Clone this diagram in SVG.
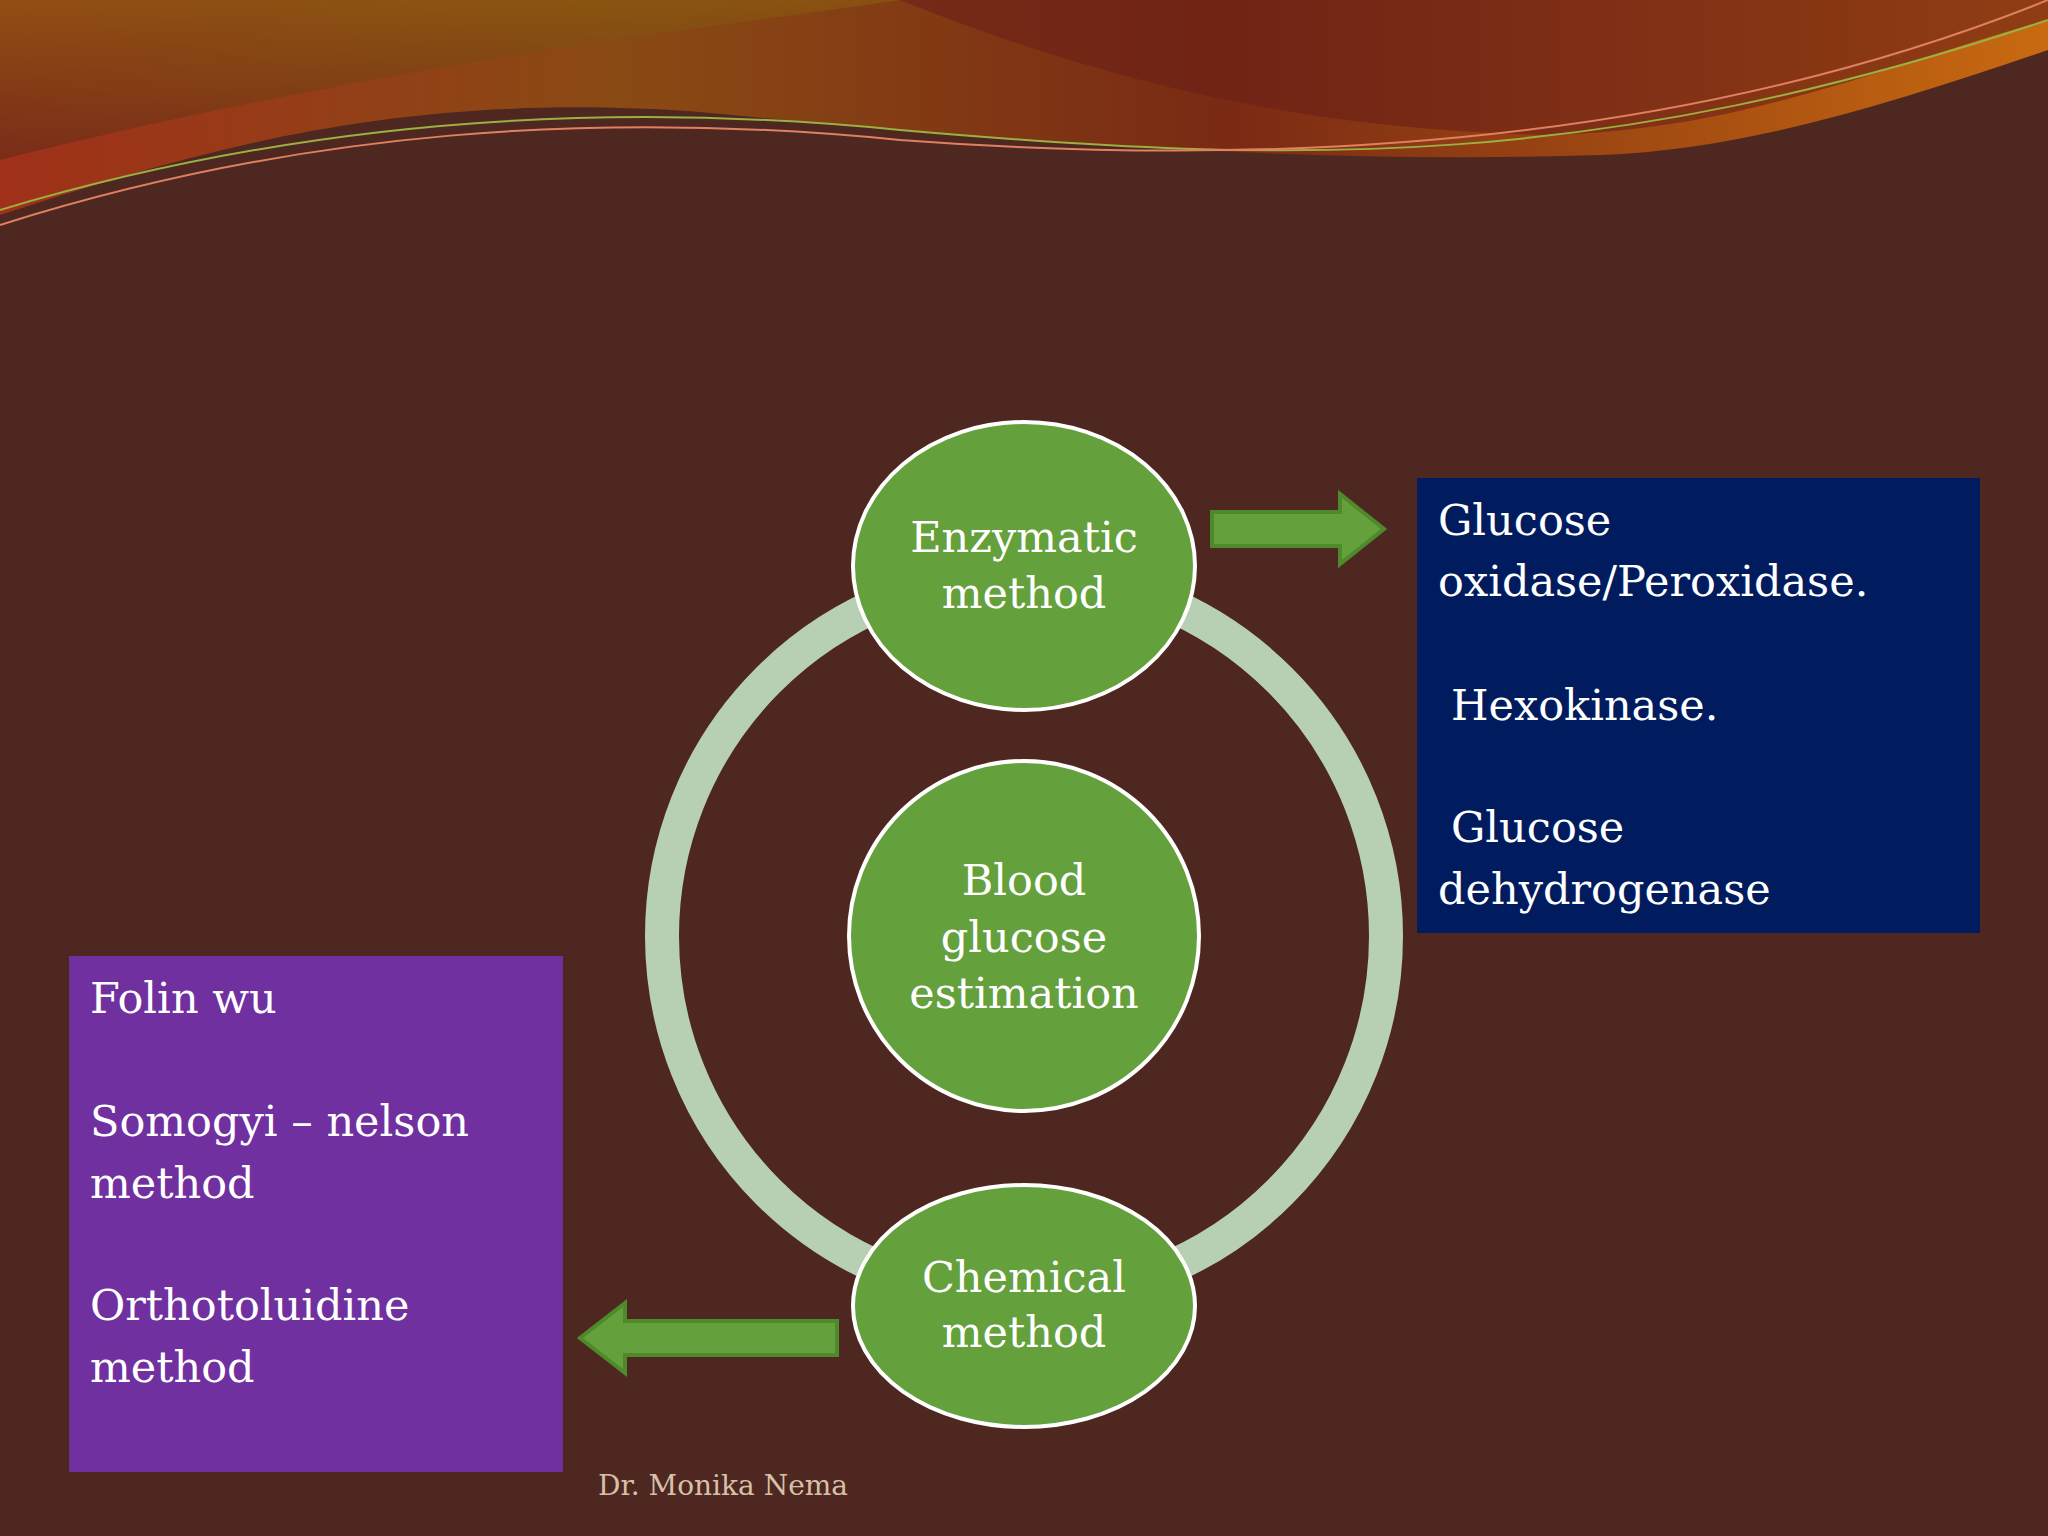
<svg xmlns="http://www.w3.org/2000/svg" width="2048" height="1536" viewBox="0 0 2048 1536">
<defs>
<linearGradient id="hg" x1="0" y1="0" x2="1" y2="0">
<stop offset="0" stop-color="#a0301a"/><stop offset="0.3" stop-color="#8a4a14"/><stop offset="0.6" stop-color="#7a2a14"/><stop offset="1" stop-color="#c86a10"/>
</linearGradient>
<linearGradient id="hg2" x1="0" y1="0" x2="0" y2="1">
<stop offset="0" stop-color="#8a5a10"/><stop offset="1" stop-color="#6a2a18"/>
</linearGradient>
</defs>
<style>
.t{font-family:"DejaVu Serif","Liberation Serif",serif;font-size:43px;fill:#ffffff}
.c{text-anchor:middle}
.node{fill:#64a03c;stroke:#ffffff;stroke-width:4}
.arr{fill:#64a03c;stroke:#4e8a2c;stroke-width:4}
</style>
<rect width="2048" height="1536" fill="#4e2820"/>
<g id="header">
<path d="M0 0H2048V50C1900 100 1750 150 1600 155C1300 165 1000 140 700 112C400 90 200 150 0 215Z" fill="url(#hg)"/>
<path d="M0 0H900C700 30 400 60 0 160Z" fill="url(#hg2)" opacity="0.7"/>
<path d="M900 0C1100 80 1300 130 1550 135C1750 130 1900 60 2048 20V0Z" fill="#6a2018" opacity="0.6"/>
<path d="M0 210C300 120 600 100 900 130C1300 165 1600 170 2048 20" fill="none" stroke="#9ab040" stroke-width="2"/>
<path d="M0 225C300 130 600 110 900 140C1300 170 1700 140 2048 0" fill="none" stroke="#e08060" stroke-width="2"/>
</g>
<g id="ring"><circle cx="1024" cy="936" r="362" fill="none" stroke="#b7d0b4" stroke-width="34"/></g>
<g id="connectors">
<path class="arr" d="M1212 512H1340V494L1384 529L1340 564V546H1212Z"/>
<path class="arr" d="M837 1321H625V1303L580 1338L625 1373V1355H837Z"/>
</g>
<g id="enzymatic"><ellipse class="node" cx="1024" cy="566" rx="171" ry="144"/>
<text class="t c" x="1024" y="552">Enzymatic</text><text class="t c" x="1024" y="608">method</text></g>
<g id="blood"><circle class="node" cx="1024" cy="936" r="175"/>
<text class="t c" x="1024" y="895">Blood</text><text class="t c" x="1024" y="952">glucose</text><text class="t c" x="1024" y="1008">estimation</text></g>
<g id="chemical"><ellipse class="node" cx="1024" cy="1306" rx="171" ry="121"/>
<text class="t c" x="1024" y="1292">Chemical</text><text class="t c" x="1024" y="1347">method</text></g>
<g id="enzymes"><rect x="1417" y="478" width="563" height="455" fill="#001c5e"/>
<text class="t" x="1438" y="535">Glucose</text><text class="t" x="1438" y="596">oxidase/Peroxidase.</text>
<text class="t" x="1451" y="720">Hexokinase.</text>
<text class="t" x="1451" y="842">Glucose</text><text class="t" x="1438" y="904">dehydrogenase</text></g>
<g id="chemicals"><rect x="69" y="956" width="494" height="516" fill="#7030a0"/>
<text class="t" x="90" y="1013">Folin wu</text>
<text class="t" x="90" y="1136">Somogyi – nelson</text><text class="t" x="90" y="1198">method</text>
<text class="t" x="90" y="1320">Orthotoluidine</text><text class="t" x="90" y="1382">method</text></g>
<text x="598" y="1495" font-family="DejaVu Serif,serif" font-size="28" fill="#d8c0a8">Dr. Monika Nema</text>
</svg>
